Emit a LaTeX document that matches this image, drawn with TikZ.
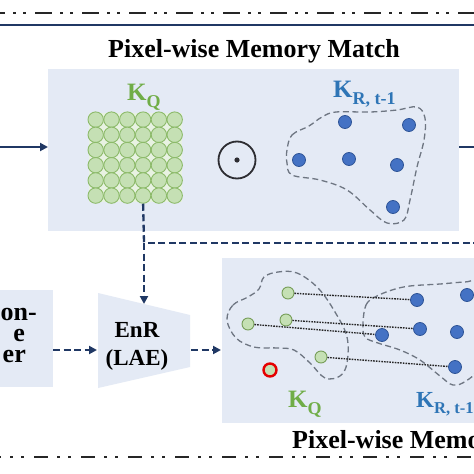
\documentclass[tikz,border=0pt]{standalone}
\usepackage{fontspec}
\setmainfont{Liberation Serif}
\usetikzlibrary{arrows.meta}
\definecolor{boxbg}{RGB}{228,234,245}
\definecolor{navy}{RGB}{32,56,100}
\definecolor{kgreen}{RGB}{112,173,71}
\definecolor{gfill}{RGB}{197,224,180}
\definecolor{gline}{RGB}{140,186,105}
\definecolor{gridbg}{RGB}{232,242,226}
\definecolor{bfill}{RGB}{68,114,196}
\definecolor{bline}{RGB}{47,85,151}
\definecolor{kblue}{RGB}{46,117,182}
\definecolor{blobgray}{RGB}{110,118,130}
\definecolor{oline}{RGB}{45,45,50}
\newcommand{\Kwith}[1]{K\raisebox{-0.3em}{\scalebox{0.72}{#1}}}
\tikzset{
  panel/.style={fill=boxbg, draw=none, inner sep=0, outer sep=0},
  navyarrow/.style={draw=navy, line width=2.3pt, -{Triangle[length=8pt,width=8pt]}},
  navyline/.style={draw=navy, line width=2.3pt},
  navydash/.style={draw=navy, line width=2.3pt, dash pattern=on 7pt off 3.5pt},
  qdot/.style={circle, draw=gline, fill=gfill, line width=0.9pt, minimum size=15.4pt, inner sep=0},
  gdot/.style={circle, draw=gline!85!black, fill=gfill, line width=0.9pt, minimum size=12pt, inner sep=0},
  rdot/.style={circle, draw=red!90!black, fill=gfill, line width=2.4pt, minimum size=13pt, inner sep=0},
  bdot/.style={circle, draw=bline, fill=bfill, line width=0.8pt, minimum size=13pt, inner sep=0},
  blob/.style={draw=blobgray, line width=1.3pt, dash pattern=on 6pt off 3.5pt},
  match/.style={draw=black!85, line width=1.4pt, dash pattern=on 1.6pt off 1.1pt},
  heading/.style={font=\fontsize{26}{28}\selectfont\bfseries, inner sep=0},
  klabel/.style={font=\fontsize{25}{25}\selectfont\bfseries, inner sep=0, anchor=base west},
  frag/.style={font=\fontsize{26}{26}\selectfont\bfseries, inner sep=0, anchor=base east},
  enrtext/.style={font=\fontsize{23}{25}\selectfont\bfseries, inner sep=0, anchor=base},
  dashdotline/.style={draw=black!85, line width=2.8pt, dash pattern=on 17pt off 8pt on 3pt off 7pt on 3pt off 9pt},
  dashdotlow/.style={draw=black!85, line width=2.8pt, dash pattern=on 14pt off 9pt on 3pt off 8pt on 3pt off 10pt}
}
\begin{document}
\begin{tikzpicture}[x=1pt,y=-1pt]
\useasboundingbox (0,0) rectangle (474,474);
\clip (0,0) rectangle (474,474);
\fill[white] (0,0) rectangle (474,474);

% top separators
\coordinate (ddA) at (-12,13);
\coordinate (ddB) at (480,13);
\draw[dashdotline] (ddA) -- (ddB);
\coordinate (slA) at (-2,25);
\coordinate (slB) at (476,25);
\draw[navy, line width=2pt] (slA) -- (slB);

% title
\node[heading, anchor=base] (title) at (254,57) {Pixel-wise Memory Match};

% top panel
\node[panel, minimum width=411pt, minimum height=162pt] (topbox) at (253.5,150) {};
\coordinate (inL) at (0,147);
\coordinate (outR) at (480,147);
\draw[navyarrow] (inL) -- (inL -| topbox.west);
\draw[navyline] (topbox.east |- outR) -- (outR);

% K_Q grid
\fill[gridbg] (89,113) rectangle (182,202);
\foreach \i in {0,...,5}{
  \foreach \j in {0,...,5}{
    \node[qdot] (q-\i-\j) at (95.7+15.8*\i, 119.6+15.2*\j) {};
  }
}
\node[klabel, text=kgreen] (kq1) at (127,100) {\Kwith{Q}};

% odot
\node[circle, draw=oline, line width=1.8pt, minimum size=37pt, inner sep=0] (odot) at (237,160) {};
\fill[oline] (odot.center) circle (2.6pt);

% K_R top
\draw[blob] plot[smooth cycle, tension=0.6] coordinates {
  (287,150) (292,135) (309,126) (322,117) (336,112) (370,112) (397,110) (417,107)
  (425,118) (424,140) (417,167) (410,200) (404,220) (387,223) (370,210) (347,190)
  (320,180) (292,175) (287,163)};
\node[bdot] (r1) at (345,122) {};
\node[bdot] (r2) at (409,125) {};
\node[bdot] (r3) at (299,160) {};
\node[bdot] (r4) at (349,159) {};
\node[bdot] (r5) at (397,165) {};
\node[bdot] (r6) at (393,207) {};
\node[klabel, text=kblue] (kr1) at (333,97) {\Kwith{R, t-1}};

% dashed connector to EnR
\coordinate (junc) at (144,243);
\coordinate (farR) at (480,243);
\coordinate (enrTop) at (144,304);
\draw[navydash] (farR) -- (junc);
\draw[navydash] (q-3-5.south) -- (junc);
\draw[navydash, -{Triangle[length=8pt,width=8pt]}] (junc) -- (enrTop);

% left panel (cut off)
\node[panel, minimum width=60pt, minimum height=97pt] (leftbox) at (23,338.5) {};
\node[frag] (lt1) at (37,320) {on-};
\node[frag] (lt2) at (25,341) {e};
\node[frag] (lt3) at (26,362) {er};

% EnR trapezoid
\coordinate (eA) at (98,293);
\coordinate (eB) at (190,315);
\coordinate (eC) at (190,367);
\coordinate (eD) at (98,388);
\fill[boxbg] (eA) -- (eB) -- (eC) -- (eD) -- cycle;
\node[enrtext] (enr1) at (137,337) {EnR};
\node[enrtext] (enr2) at (137,365) {(LAE)};
\coordinate (enrL) at (97,350);
\coordinate (enrR) at (191,350);

% bottom panel
\node[panel, minimum width=262pt, minimum height=165pt] (botbox) at (353,340.5) {};

\draw[navydash, -{Triangle[length=8pt,width=8pt]}] (leftbox.east |- enrL) -- (enrL);
\draw[navydash, -{Triangle[length=8pt,width=8pt]}] (enrR) -- ([xshift=-1pt]botbox.west |- enrR);

% bottom blobs
\draw[blob] plot[smooth cycle, tension=0.6] coordinates {
  (227,320) (233,305) (248,297) (259,289) (264,277) (278,272) (297,273) (318,288)
  (335,312) (347,337) (347,363) (340,376) (325,378) (310,363) (294,350) (277,348)
  (254,347) (236,338)};
\draw[blob] plot[smooth cycle, tension=0.6] coordinates {
  (363,323) (366,305) (375,297) (392,290) (410,286) (440,284) (465,282) (488,282)
  (490,330) (478,368) (466,381) (453,385) (440,376) (420,360) (400,350) (378,343)
  (365,337)};

% bottom dots
\node[gdot] (g1) at (288,293) {};
\node[gdot] (g2) at (286,320) {};
\node[gdot] (g3) at (248,324) {};
\node[gdot] (g4) at (321,357) {};
\node[rdot] (g5) at (270,370) {};
\node[bdot] (b1) at (417,300) {};
\node[bdot] (b2) at (420,329) {};
\node[bdot] (b3) at (382,335) {};
\node[bdot] (b4) at (455,367) {};
\node[bdot] (b5) at (467,295) {};
\node[bdot] (b6) at (457,332) {};

\draw[match] (g1) -- (b1);
\draw[match] (g2) -- (b2);
\draw[match] (g3) -- (b3);
\draw[match] (g4) -- (b4);

\node[klabel, text=kgreen] (kq2) at (288,407) {\Kwith{Q}};
\node[klabel, text=kblue, font=\fontsize{23}{23}\selectfont\bfseries] (kr2) at (416,407) {\Kwith{R, t-1}};

% bottom title (cut off)
\node[heading, anchor=base west] (bottitle) at (292,448) {Pixel-wise Memo};

% bottom separator
\coordinate (ddC) at (-13,457);
\coordinate (ddD) at (480,457);
\draw[dashdotlow] (ddC) -- (ddD);
\end{tikzpicture}
\end{document}
